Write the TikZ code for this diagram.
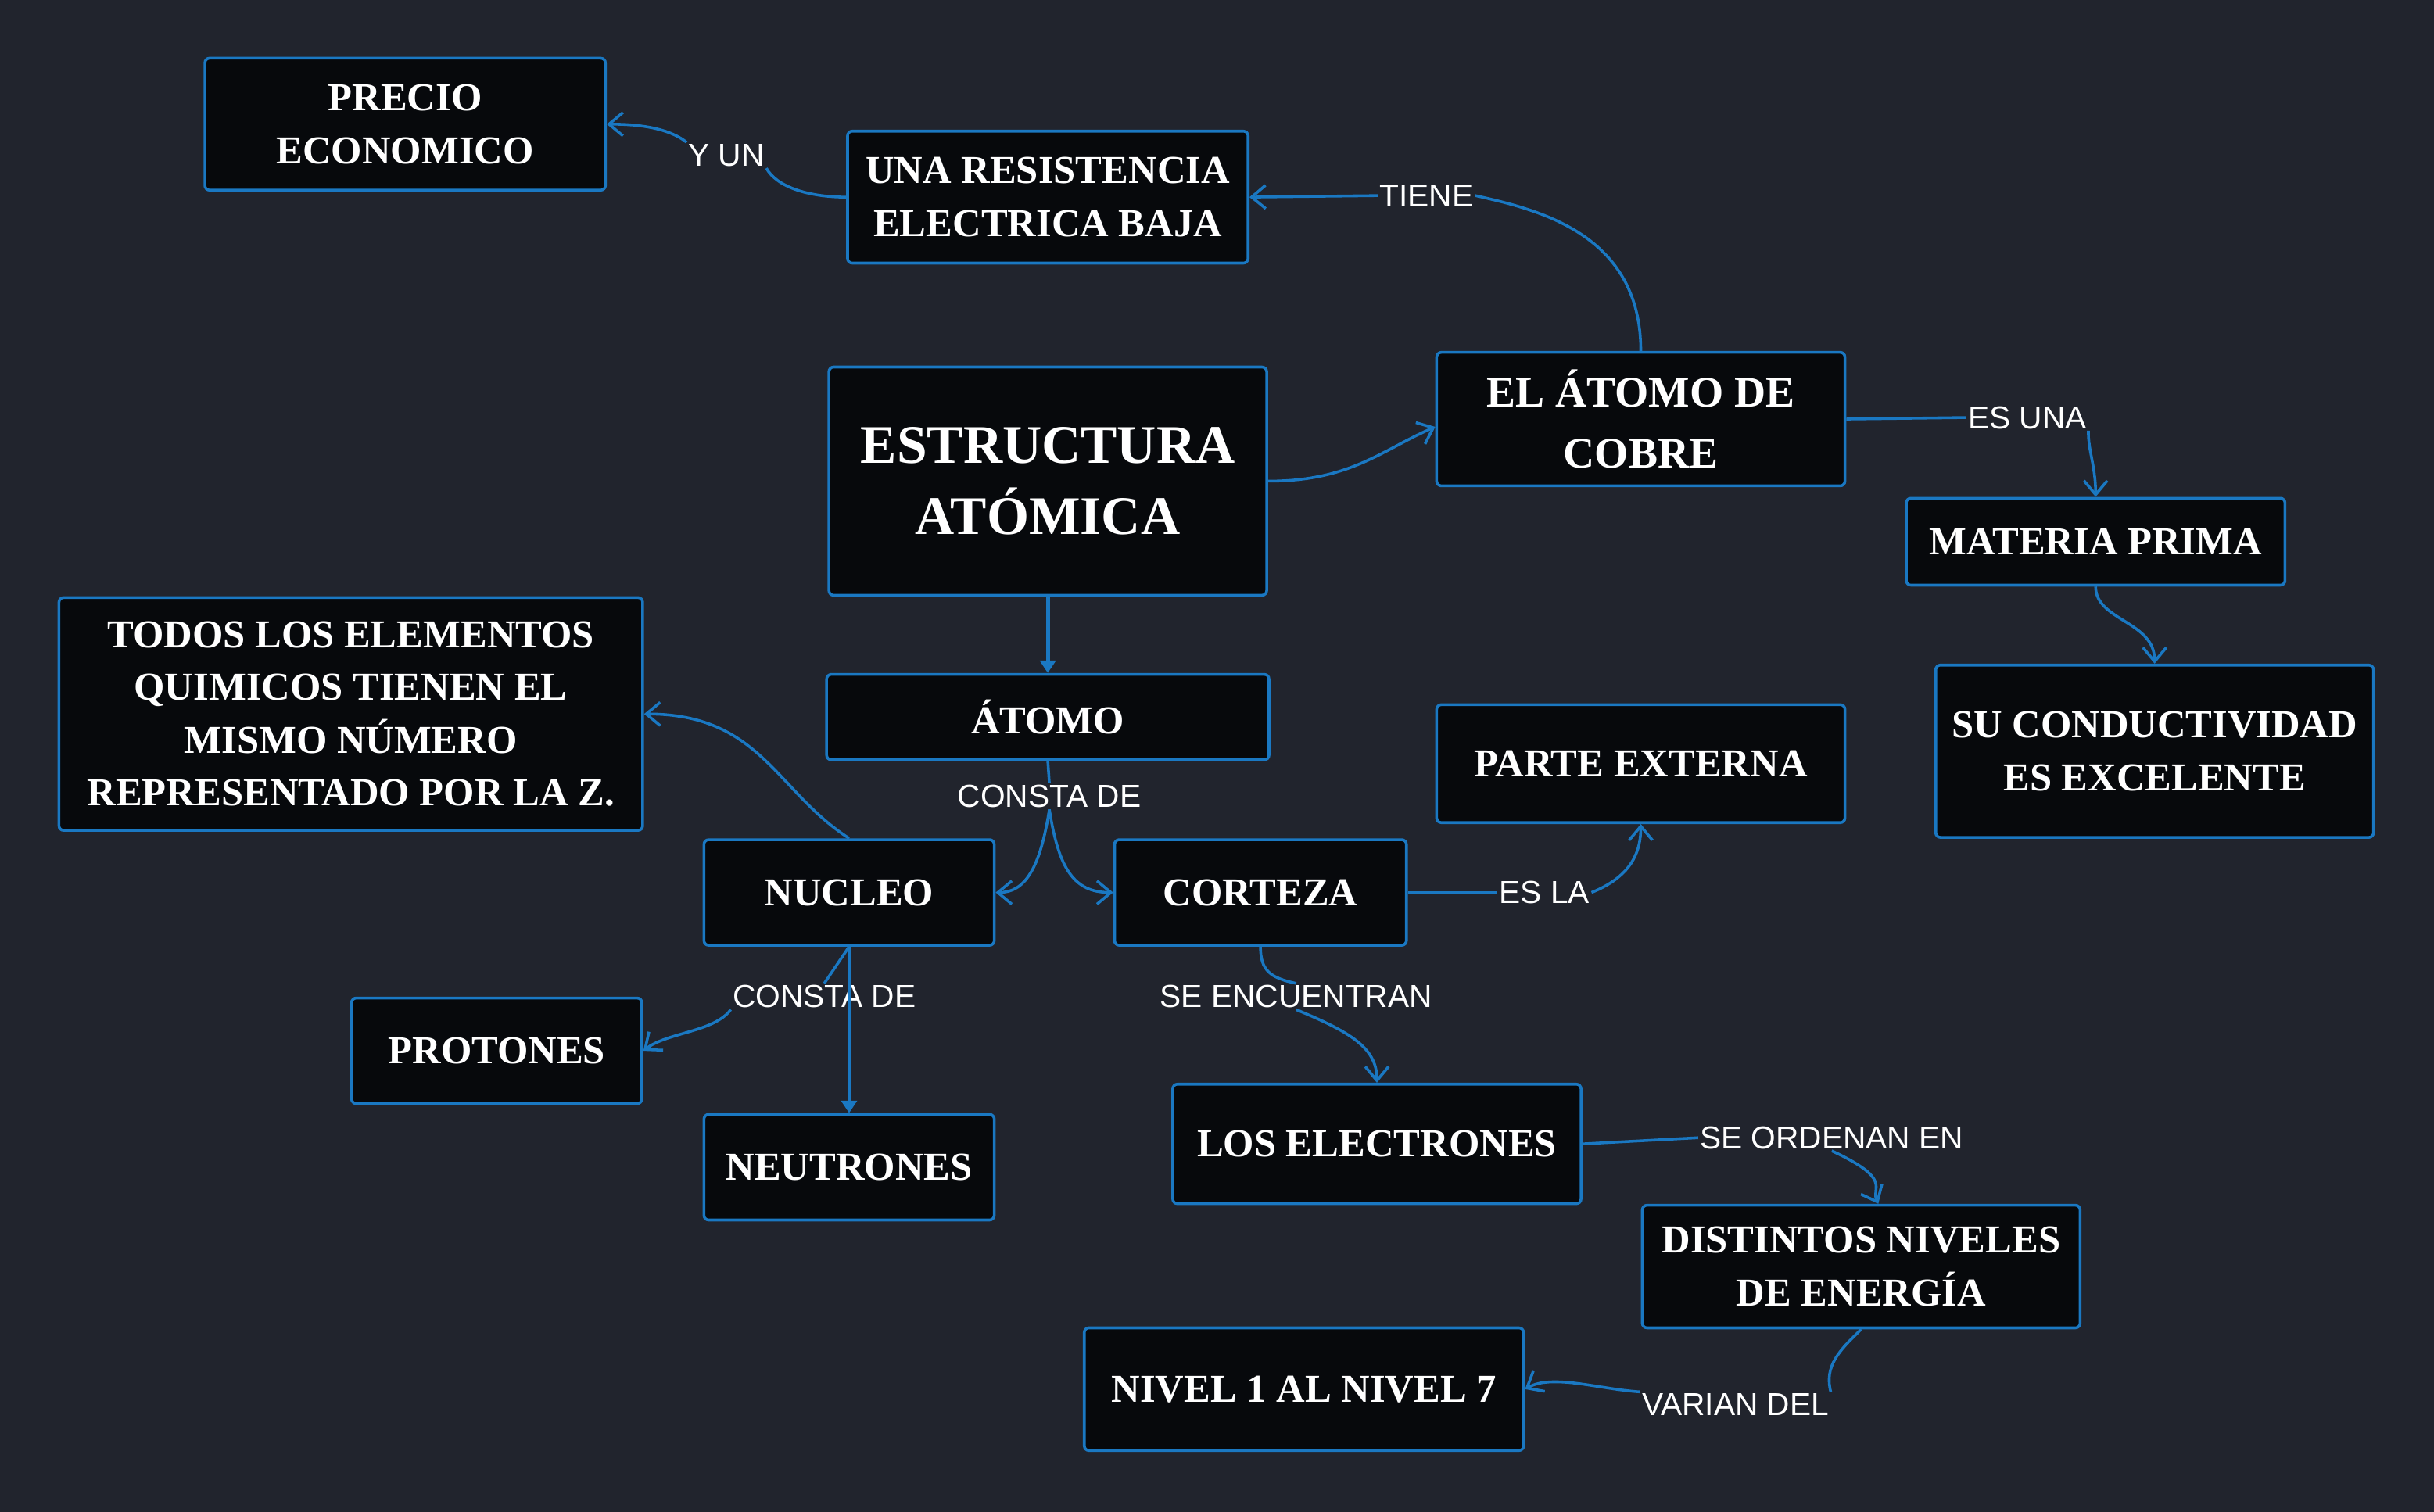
\documentclass[tikz,border=0pt]{standalone}
\usepackage{fontspec}
\setmainfont{Liberation Serif}
\setsansfont{Liberation Sans}
\usetikzlibrary{arrows.meta}
\definecolor{bg}{HTML}{21242D}
\definecolor{nf}{HTML}{07090C}
\definecolor{ln}{HTML}{1A78C2}
\begin{document}
\begin{tikzpicture}[x=1pt,y=-1pt,
 box/.style={draw=ln,line width=1.8pt,fill=nf,rounded corners=3pt,text=white,align=center,font=\fontsize{25.5}{34}\selectfont\bfseries,inner sep=0pt},
 lab/.style={text=white,font=\sffamily\fontsize{20.5}{23}\selectfont,inner sep=1pt},
 con/.style={draw=ln,line width=1.8pt,-{Straight Barb[length=9pt,width=15pt]}},
 pl/.style={draw=ln,line width=1.8pt}]
\fill[bg] (0,0) rectangle (1568,974);
\useasboundingbox (0,0) rectangle (1568,974);
\node[box,minimum width=258pt,minimum height=85pt] (pre) at (261,80) {PRECIO\\ECONOMICO};
\node[box,minimum width=258pt,minimum height=85pt] (res) at (675,127) {UNA RESISTENCIA\\ELECTRICA BAJA};
\node[box,minimum width=282pt,minimum height=147pt,font=\fontsize{35}{46}\selectfont\bfseries] (est) at (675,310) {ESTRUCTURA\\ATÓMICA};
\node[box,minimum width=263pt,minimum height=86pt,font=\fontsize{28}{39}\selectfont\bfseries] (cob) at (1057,270) {EL ÁTOMO DE\\COBRE};
\node[box,minimum width=244pt,minimum height=56pt] (mat) at (1350,349) {MATERIA PRIMA};
\node[box,minimum width=282pt,minimum height=111pt] (con) at (1388,484) {SU CONDUCTIVIDAD\\ES EXCELENTE};
\node[box,minimum width=376pt,minimum height=150pt] (tod) at (226,460) {TODOS LOS ELEMENTOS\\QUIMICOS TIENEN EL\\MISMO NÚMERO\\REPRESENTADO POR LA Z.};
\node[box,minimum width=285pt,minimum height=55pt] (ato) at (675,462) {ÁTOMO};
\node[box,minimum width=263pt,minimum height=76pt] (par) at (1057,492) {PARTE EXTERNA};
\node[box,minimum width=187pt,minimum height=68pt] (nuc) at (547,575) {NUCLEO};
\node[box,minimum width=188pt,minimum height=68pt] (cor) at (812,575) {CORTEZA};
\node[box,minimum width=187pt,minimum height=68pt] (pro) at (320,677) {PROTONES};
\node[box,minimum width=187pt,minimum height=68pt] (neu) at (547,752) {NEUTRONES};
\node[box,minimum width=263pt,minimum height=77pt] (ele) at (887,737) {LOS ELECTRONES};
\node[box,minimum width=282pt,minimum height=79pt] (dis) at (1199,816) {DISTINTOS NIVELES\\DE ENERGÍA};
\node[box,minimum width=283pt,minimum height=79pt] (niv) at (840,895) {NIVEL 1 AL NIVEL 7};
% labels
\node[lab] (lyun) at (468,100) {Y UN};
\node[lab] (ltie) at (919,126) {TIENE};
\node[lab] (lesu) at (1306,269) {ES UNA};
\node[lab] (lc1) at (676,513) {CONSTA DE};
\node[lab] (lc2) at (531,642) {CONSTA DE};
\node[lab] (lesl) at (995,575) {ES LA};
\node[lab] (lse) at (835,642) {SE ENCUENTRAN};
\node[lab] (lso) at (1180,733) {SE ORDENAN EN};
\node[lab] (lva) at (1118,905) {VARIAN DEL};
% connectors
\draw[con] (est.east) .. controls (870,310) and (890,290) .. ([yshift=-5pt]cob.west);
\draw[pl] (cob.north) .. controls (1057,150) and (990,135) .. (ltie.east);
\draw[con] (ltie.west) -- (res.east);
\draw[pl] (res.west) .. controls (520,127) and (500,120) .. (lyun.south east);
\draw[con] (lyun.north west) .. controls (430,82) and (410,80) .. (pre.east);
\draw[pl] (cob.east) -- (lesu.west);
\draw[con] (lesu.south east) .. controls (1345,290) and (1350,300) .. (mat.north);
\draw[con] (mat.south) .. controls (1350,400) and (1388,400) .. (con.north);
\draw[draw=ln,line width=2.5pt,-{Triangle[length=8pt,width=10pt]}] (est.south) -- (ato.north);
\draw[pl] (ato.south) -- (lc1.north);
\draw[con] (lc1.south) .. controls (670,560) and (660,575) .. (nuc.east);
\draw[con] (lc1.south) .. controls (682,560) and (692,575) .. (cor.west);
\draw[con] (nuc.north) .. controls (500,510) and (490,460) .. (tod.east);
\draw[pl] (nuc.south) -- (lc2.north);
\draw[con] (lc2.south west) .. controls (460,665) and (430,665) .. (pro.east);
\draw[draw=ln,line width=2.5pt,-{Triangle[length=8pt,width=10pt]}] (nuc.south) -- (neu.north);
\draw[pl] (cor.east) -- (lesl.west);
\draw[con] (lesl.east) .. controls (1050,565) and (1057,550) .. (par.south);
\draw[pl] (cor.south) .. controls (812,625) and (818,630) .. (lse.north);
\draw[con] (lse.south) .. controls (870,665) and (887,675) .. (ele.north);
\draw[pl] (ele.east) -- (lso.west);
\draw[con] (lso.south) .. controls (1220,760) and (1205,765) .. ([xshift=11pt]dis.north);
\draw[pl] (dis.south) .. controls (1185,870) and (1175,880) .. (lva.north east);
\draw[con] (lva.north west) .. controls (1030,895) and (1000,885) .. (niv.east);
\end{tikzpicture}
\end{document}
